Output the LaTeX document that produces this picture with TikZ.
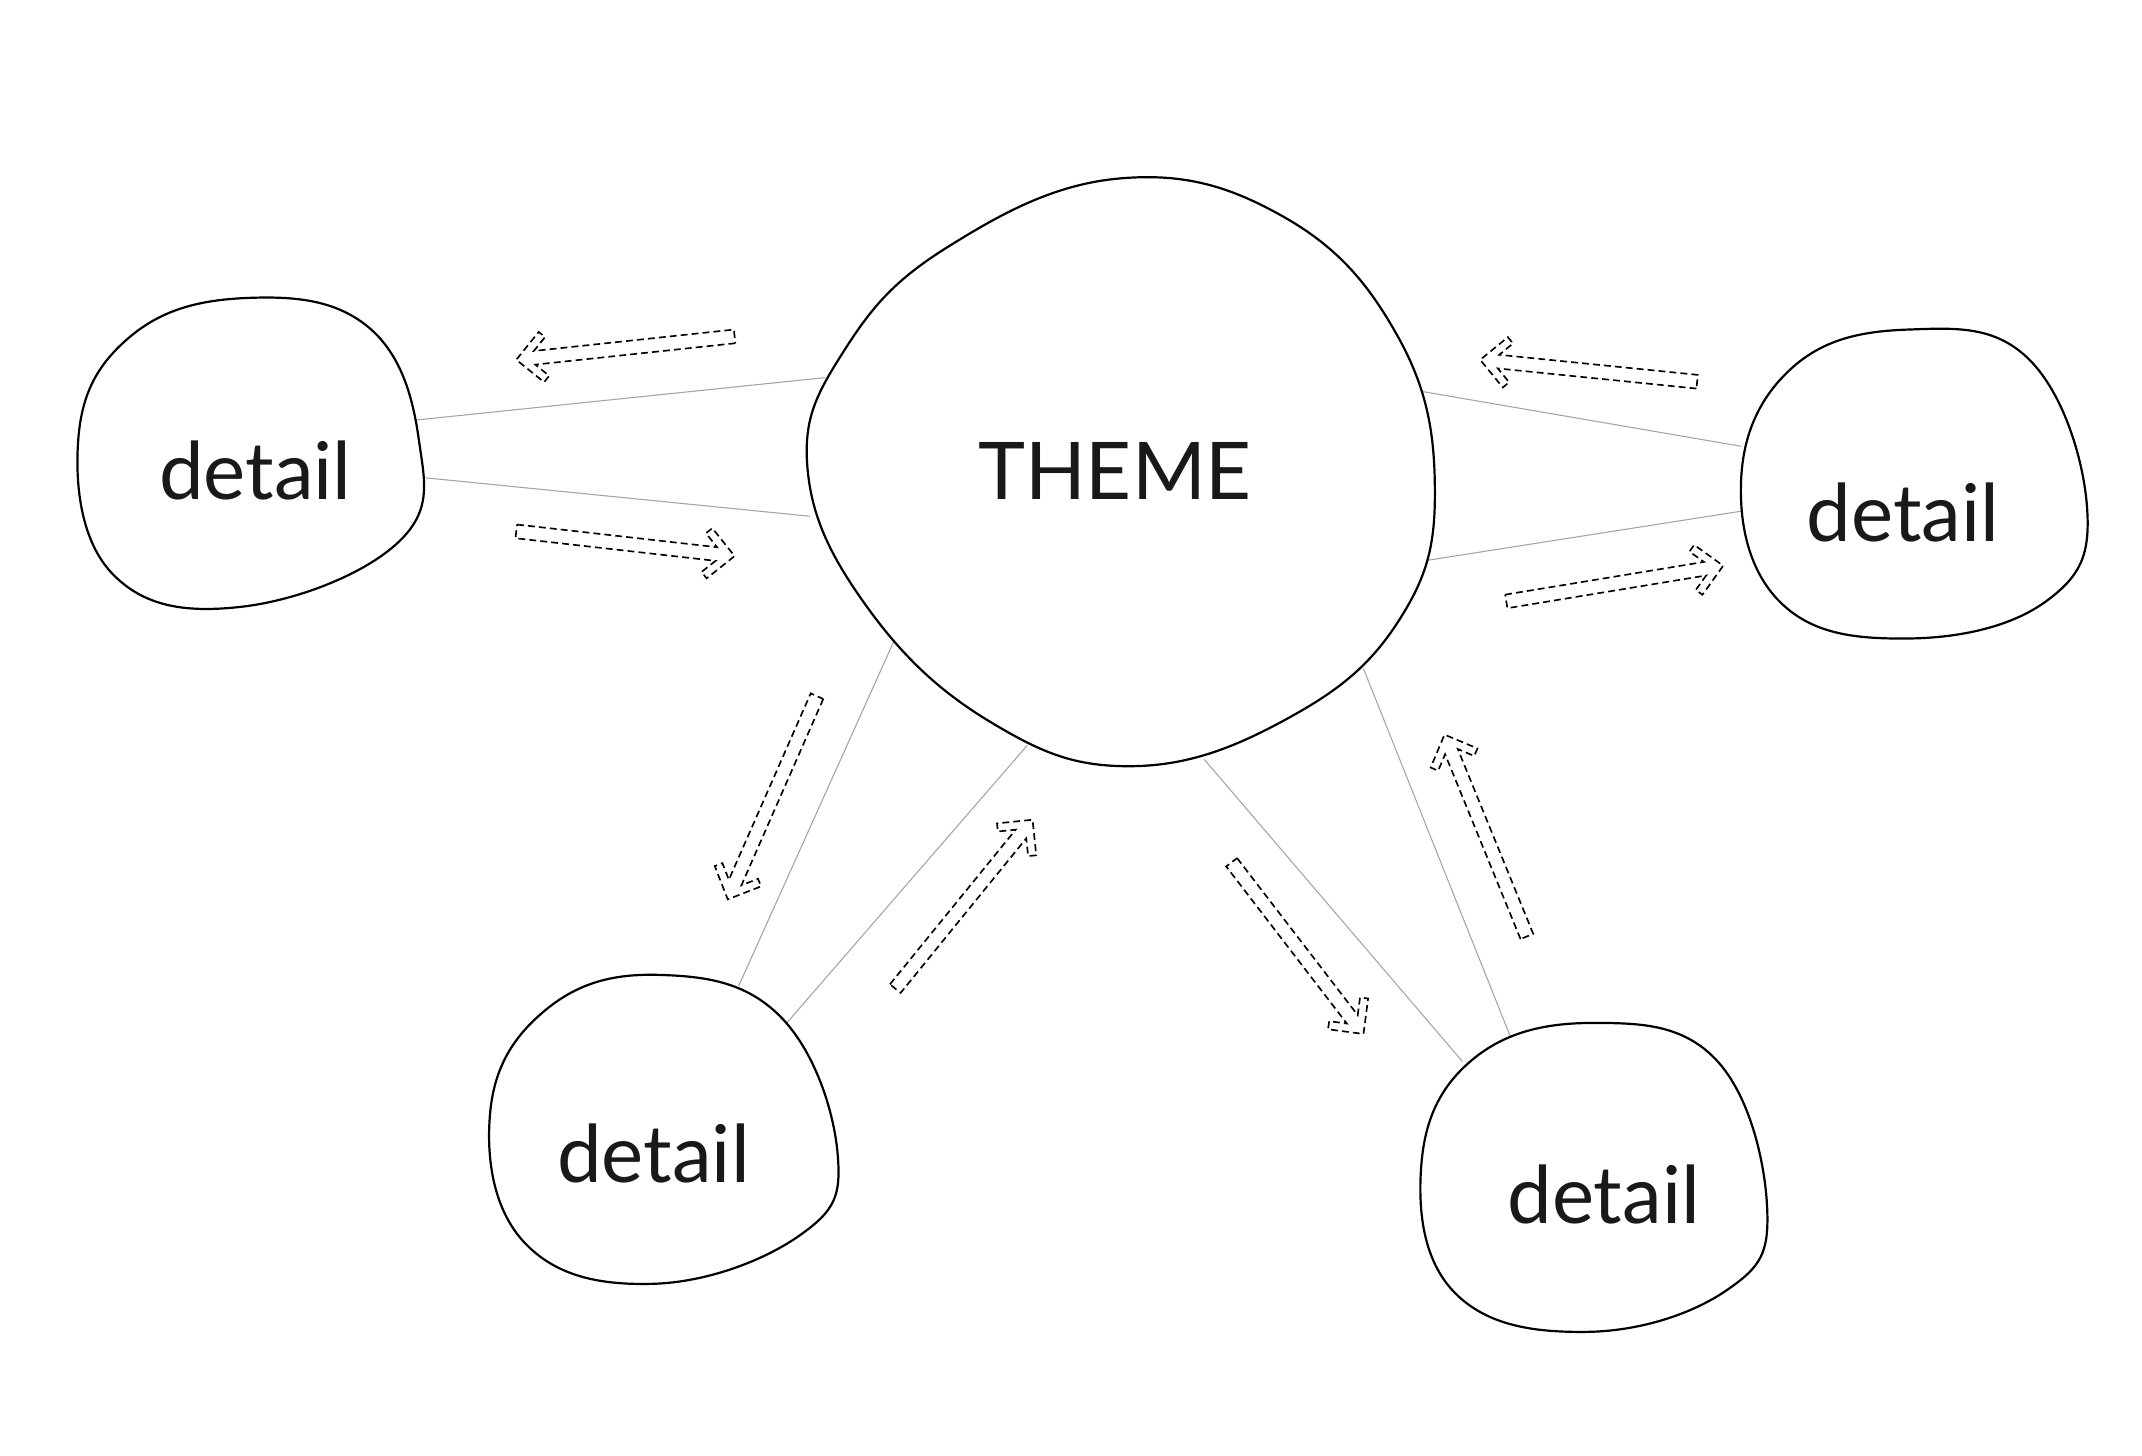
\documentclass[tikz,border=0pt]{standalone}
\usepackage{fontspec}
\setmainfont{Lato}
\begin{document}
\begin{tikzpicture}[x=1pt,y=-1pt,
 blob/.style={draw=black,line width=1.6pt},
 link/.style={draw=gray!70,line width=0.8pt},
 arrowbox/.style={draw=black,line width=1.2pt,dash pattern=on 5pt off 3pt},
 lbl/.style={font=\fontsize{58}{70}\selectfont,text=black!90}]
\useasboundingbox (0,0) rectangle (1560,1060);
\newcommand\harrow[4]{\pgfmathsetmacro\ang{atan2(-(#4-#2),#3-#1)}\pgfmathsetmacro\len{veclen(#3-#1,#4-#2)}
 \draw[arrowbox,shift={(#1,#2)},rotate=\ang] (0,-5)--(\len-13.4,-5)--(\len-22.6,-14.2)--(\len-18.4,-18.4)--(\len,0)--(\len-18.4,18.4)--(\len-22.6,14.2)--(\len-13.4,5)--(0,5)--cycle;}
% links
\draw[link] (302,306)--(601,275);
\draw[link] (310,348)--(590,376);
\draw[link] (1035,285)--(1268,325);
\draw[link] (1040,408)--(1270,372);
\draw[link] (651,467)--(538,718);
\draw[link] (748,543)--(573,745);
\draw[link] (877,553)--(1065,773);
\draw[link] (993,487)--(1100,755);
% blobs
\draw[blob,fill=white] plot[smooth cycle,tension=0.7] coordinates {(815,130)(935,158)(1018,245)(1045,355)(1020,450)(940,522)(825,558)(720,525)(630,440)(588,340)(615,255)(690,180)};
\draw[blob,fill=white] plot[smooth cycle,tension=0.7] coordinates {(180,217)(268,238)(305,320)(290,395)(175,442)(82,418)(57,320)(95,245)};
\draw[blob,fill=white] plot[smooth cycle,tension=0.7] coordinates {(1390,240)(1478,262)(1520,370)(1490,438)(1390,465)(1298,440)(1268,350)(1305,268)};
\draw[blob,fill=white] plot[smooth cycle,tension=0.7] coordinates {(480,710)(568,740)(610,840)(582,900)(475,935)(382,905)(357,810)(398,735)};
\draw[blob,fill=white] plot[smooth cycle,tension=0.7] coordinates {(1160,745)(1250,772)(1287,880)(1257,940)(1155,970)(1060,942)(1035,850)(1072,772)};
% labels
\node[lbl] (theme) at (812,343) {THEME};
\node[lbl] (d1) at (186,343) {detail};
\node[lbl] (d2) at (1386,373) {detail};
\node[lbl] (d3) at (476,840) {detail};
\node[lbl] (d4) at (1168,870) {detail};
% arrows
\harrow{535}{245}{376}{262}
\harrow{376}{387}{535}{405}
\harrow{1236}{278}{1078}{262}
\harrow{1097}{438}{1255}{412}
\harrow{595}{507}{530}{655}
\harrow{652}{720}{752}{597}
\harrow{897}{628}{993}{753}
\harrow{1112}{682}{1052}{535}
\end{tikzpicture}
\end{document}
